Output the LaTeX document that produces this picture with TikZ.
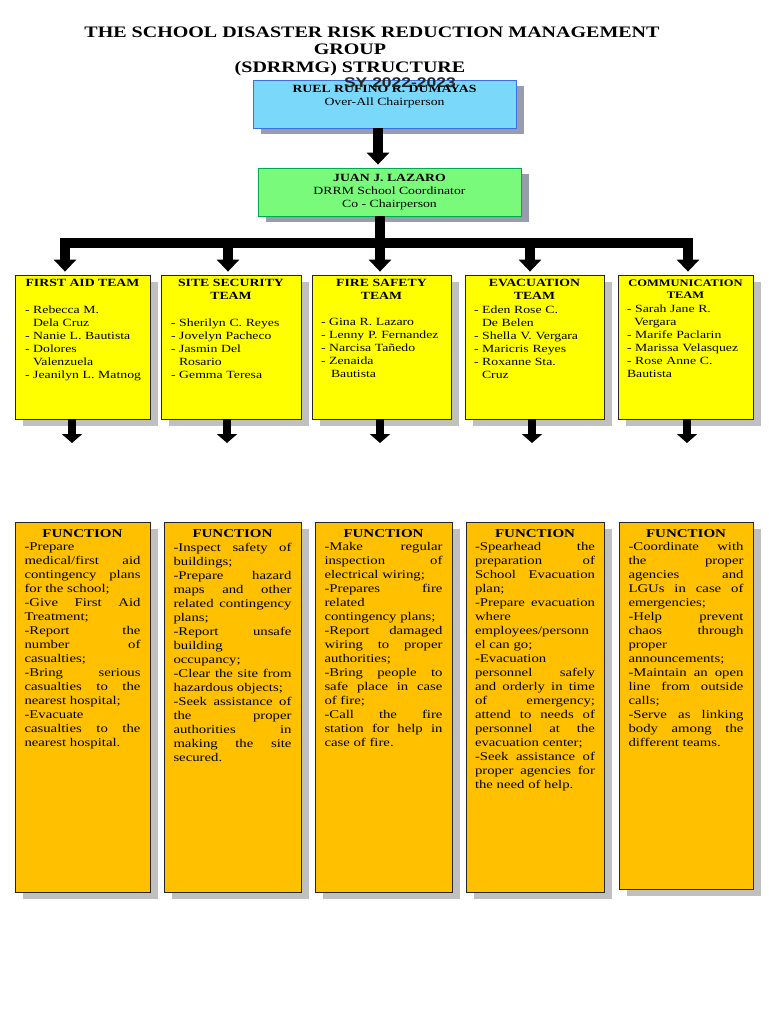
\documentclass[tikz,border=0pt]{standalone}
\usepackage{fontspec}
\setmainfont{Liberation Serif}[FakeStretch=1.25]
\newfontfamily\yearfont{Liberation Sans}[FakeStretch=1.25]
\usepackage{xcolor}
\usetikzlibrary{arrows.meta, positioning, shadows, calc}

\definecolor{chairblue}{RGB}{122,216,250}
\definecolor{chairedge}{RGB}{60,110,225}
\definecolor{cochairgreen}{RGB}{122,250,122}
\definecolor{cochairedge}{RGB}{0,170,80}
\definecolor{teamyellow}{RGB}{255,255,0}
\definecolor{funcorange}{RGB}{255,192,0}
\definecolor{shadowblue}{RGB}{152,156,172}
\definecolor{shadowgray}{RGB}{192,192,192}

\newcommand{\contd}{\hspace*{8pt}}
\newcommand{\nohyph}{\hyphenpenalty=10000\relax\exhyphenpenalty=10000\relax}

\begin{document}
\begin{tikzpicture}[
    x=1pt, y=-1pt,
    orgbox/.style={draw=black!85, line width=0.8pt, inner sep=0pt},
    topshadow/.style={drop shadow={shadow xshift=8pt, shadow yshift=-6pt, fill=shadowblue, opacity=1}},
    lowshadow/.style={drop shadow={shadow xshift=8pt, shadow yshift=-7pt, fill=shadowgray, opacity=1}},
    chairbox/.style={orgbox, draw=chairedge, fill=chairblue, minimum width=263pt, minimum height=48pt, topshadow},
    cochairbox/.style={orgbox, draw=cochairedge, fill=cochairgreen, minimum width=263pt, minimum height=48pt, topshadow},
    teambox/.style={orgbox, fill=teamyellow, minimum height=144pt, lowshadow},
    funcbox/.style={orgbox, fill=funcorange, minimum height=370pt, lowshadow},
    txt/.style={inner sep=0pt},
    titletext/.style={txt, align=center, font=\fontsize{16}{18.5}\selectfont\bfseries},
    nametext/.style={txt, align=center, font=\fontsize{11}{13}\selectfont},
    teamhead/.style={txt, align=center, font=\fontsize{11}{13}\selectfont\bfseries},
    teamlist/.style={txt, align=left, font=\fontsize{11}{13}\selectfont\nohyph},
    funchead/.style={txt, font=\fontsize{12}{14}\selectfont\bfseries},
    funcbody/.style={txt, align=justify, font=\fontsize{11.8}{14}\selectfont\nohyph},
    bigarrow/.style={line width=10pt, -{Triangle[length=12pt, width=22pt]}, shorten >=3pt},
    smallarrow/.style={line width=8pt, -{Triangle[length=9pt, width=20pt]}},
    bus/.style={line width=10pt}
]
\useasboundingbox (0,0) rectangle (768,1024);

% Title
\node[titletext] (title) at (372, 32) {THE SCHOOL DISASTER RISK REDUCTION MANAGEMENT};
\node[titletext] (subtitle) at (350, 60) {GROUP\\(SDRRMG) STRUCTURE};

% Chairperson and co-chairperson
\node[chairbox] (chair) at (384.5, 104) {};
\node[nametext, below=5pt of chair.north] (chairtxt) {\textbf{RUEL RUFINO R. DUMAYAS}\\Over-All Chairperson};
\node[txt, font=\yearfont\fontsize{14}{16}\selectfont\bfseries, text=black!85] (year) at (400, 83) {SY 2022-2023};

\node[cochairbox, nametext] (cochair) at (389.5, 192) {\textbf{JUAN J. LAZARO}\\DRRM School Coordinator\\Co - Chairperson};

\draw[bigarrow] ([xshift=-6.5pt]chair.south) -- ([xshift=-11.5pt]cochair.north);

% Teams
\node[teambox, minimum width=135pt] (team1) at (82.5, 347) {};
\node[teambox, minimum width=140pt] (team2) at (231, 347) {};
\node[teambox, minimum width=139pt] (team3) at (381.5, 347) {};
\node[teambox, minimum width=139pt] (team4) at (534.5, 347) {};
\node[teambox, minimum width=135pt] (team5) at (685.5, 347) {};

\node[teamhead, below=4.5pt of team1.north] (head1) {FIRST AID TEAM};
\node[teamhead, below=4.5pt of team2.north] (head2) {SITE SECURITY\\TEAM};
\node[teamhead, below=4.5pt of team3.north] (head3) {FIRE SAFETY\\TEAM};
\node[teamhead, below=4.5pt of team4.north] (head4) {EVACUATION\\TEAM};
\node[teamhead, font=\fontsize{10}{12}\selectfont\bfseries, below=5pt of team5.north] (head5) {COMMUNICATION\\TEAM};

\node[teamlist, text width=121pt, below=31pt of team1.north, xshift=3pt] (list1) {- Rebecca M.\\\contd Dela Cruz\\- Nanie L. Bautista\\- Dolores\\\contd Valenzuela\\- Jeanilyn L. Matnog};
\node[teamlist, text width=120pt, below=44pt of team2.north] (list2) {- Sherilyn C. Reyes\\- Jovelyn Pacheco\\- Jasmin Del\\\contd Rosario\\- Gemma Teresa};
\node[teamlist, text width=121pt, below=43pt of team3.north] (list3) {- Gina R. Lazaro\\- Lenny P. Fernandez\\- Narcisa Ta\~nedo\\- Zenaida\\\hspace*{10pt}Bautista};
\node[teamlist, text width=121pt, below=31pt of team4.north] (list4) {- Eden Rose C.\\\contd De Belen\\- Shella V. Vergara\\- Maricris Reyes\\- Roxanne Sta.\\\contd Cruz};
\node[teamlist, text width=117pt, below=30pt of team5.north] (list5) {- Sarah Jane R.\\\hspace*{7pt}Vergara\\- Marife Paclarin\\- Marissa Velasquez\\- Rose Anne C.\\Bautista};

% Connectors to teams
\coordinate (drop1) at (65, 243);
\coordinate (drop2) at (228, 243);
\coordinate (drop3) at (380, 243);
\coordinate (drop4) at (530, 243);
\coordinate (drop5) at (688, 243);
\draw[bus] (drop3 |- cochair.south) -- (drop3);
\draw[bus, line cap=rect] (drop1) -- (drop5);
\foreach \i in {1,...,5} {
    \draw[bigarrow] (drop\i) -- (drop\i |- team\i.north);
}

% Functions
\node[funcbox, minimum width=135pt] (func1) at (82.5, 707) {};
\node[funcbox, minimum width=137pt] (func2) at (232.5, 707) {};
\node[funcbox, minimum width=137pt] (func3) at (383.5, 707) {};
\node[funcbox, minimum width=138pt] (func4) at (535, 707) {};
\node[funcbox, minimum width=134pt, minimum height=367pt] (func5) at (686, 705.5) {};

\foreach \i in {1,...,5} {
    \node[funchead, below=7.5pt of func\i.north] (fhead\i) {FUNCTION};
}

\node[funcbody, text width=116pt, below=5pt of fhead1] (fbody1) {-Prepare\linebreak medical/first aid\linebreak contingency plans\linebreak for the school;\\ -Give First Aid\linebreak Treatment;\\ -Report the\linebreak number of\linebreak casualties;\\ -Bring serious\linebreak casualties to the\linebreak nearest hospital;\\ -Evacuate\linebreak casualties to the\linebreak nearest hospital.};
\node[funcbody, text width=118pt, below=5pt of fhead2] (fbody2) {-Inspect safety of\linebreak buildings;\\ -Prepare hazard\linebreak maps and other\linebreak related contingency\linebreak plans;\\ -Report unsafe\linebreak building\linebreak occupancy;\\ -Clear the site from\linebreak hazardous objects;\\ -Seek assistance of\linebreak the proper\linebreak authorities in\linebreak making the site\linebreak secured.};
\node[funcbody, text width=118pt, below=5pt of fhead3] (fbody3) {-Make regular\linebreak inspection of\linebreak electrical wiring;\\ -Prepares fire\linebreak related\linebreak contingency plans;\\ -Report damaged\linebreak wiring to proper\linebreak authorities;\\ -Bring people to\linebreak safe place in case\linebreak of fire;\\ -Call the fire\linebreak station for help in\linebreak case of fire.};
\node[funcbody, text width=120pt, below=5pt of fhead4] (fbody4) {-Spearhead the\linebreak preparation of\linebreak School Evacuation\linebreak plan;\\ -Prepare evacuation\linebreak where\linebreak employees/personn\linebreak el can go;\\ -Evacuation\linebreak personnel safely\linebreak and orderly in time\linebreak of emergency;\linebreak attend to needs of\linebreak personnel at the\linebreak evacuation center;\\ -Seek assistance of\linebreak proper agencies for\linebreak the need of help.};
\node[funcbody, text width=115pt, below=5pt of fhead5] (fbody5) {-Coordinate with\linebreak the proper\linebreak agencies and\linebreak LGUs in case of\linebreak emergencies;\\ -Help prevent\linebreak chaos through\linebreak proper\linebreak announcements;\\ -Maintain an open\linebreak line from outside\linebreak calls;\\ -Serve as linking\linebreak body among the\linebreak different teams.};

% Arrows below teams
\coordinate (tip1) at (72, 443);
\coordinate (tip2) at (227, 443);
\coordinate (tip3) at (380, 443);
\coordinate (tip4) at (532, 443);
\coordinate (tip5) at (687, 443);
\foreach \i in {1,...,5} {
    \draw[smallarrow] (tip\i |- team\i.south) -- (tip\i);
}

\end{tikzpicture}
\end{document}
